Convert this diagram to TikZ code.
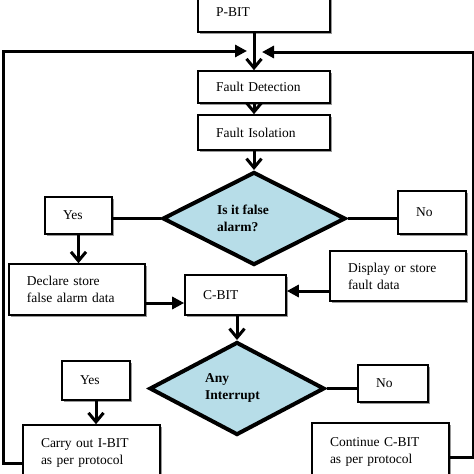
\documentclass[tikz,border=0pt]{standalone}
\usepackage{fontspec}
\setmainfont{Liberation Serif}
\usetikzlibrary{arrows.meta,shapes.geometric,shadows}
\definecolor{decblue}{RGB}{183,221,232}
\begin{document}
\begin{tikzpicture}[x=1pt,y=-1pt,
  box/.style={draw,line width=1.6pt,fill=white,rectangle,inner xsep=18pt,inner ysep=0pt,
    align=left,font=\fontsize{13.5}{17}\selectfont,
    drop shadow={shadow xshift=1.5pt,shadow yshift=-1.5pt,fill=black!40,opacity=1}},
  dec/.style={draw,diamond,line width=4pt,fill=decblue,inner sep=0pt},
  dtext/.style={anchor=west,align=left,font=\fontsize{13.5}{17}\selectfont\bfseries,inner sep=0pt},
  con/.style={line width=3pt},
  varr/.style={con,-{Straight Barb[length=9pt,width=15pt]}},
  tarr/.style={con,-{Triangle[length=12pt,width=12pt]}}]
\useasboundingbox (0,0) rectangle (474,474);
\clip (0,0) rectangle (474,474);

% boxes
\node[box,text width=96pt,minimum height=39pt] (pbit) at (264,12.5) {P-BIT};
\node[box,text width=96pt,minimum height=32pt] (fd) at (264,87) {Fault Detection};
\node[box,text width=96pt,minimum height=35pt] (fi) at (264,132.5) {Fault Isolation};
\node[box,text width=31pt,minimum height=37pt] (yes1) at (78.5,215.5) {Yes};
\node[box,text width=32pt,minimum height=43pt] (no1) at (432,212.5) {No};
\node[box,text width=100pt,minimum height=51pt] (decl) at (77,289.5) {Declare store\\false alarm data};
\node[box,text width=65pt,minimum height=40pt] (cbit) at (235.5,295) {C-BIT};
\node[box,text width=100pt,minimum height=50pt] (disp) at (398,276) {Display or store\\fault data};
\node[box,text width=32pt,minimum height=39pt] (yes2) at (96,380.5) {Yes};
\node[box,text width=34pt,minimum height=37pt] (no2) at (393,383.5) {No};
\node[box,text width=101pt,minimum height=56pt] (carry) at (91.5,453) {Carry out I-BIT\\as per protocol};
\node[box,text width=101pt,minimum height=58pt] (cont) at (380.5,452) {Continue C-BIT\\as per protocol};

% decisions
\node[dec,minimum width=183pt,minimum height=93pt] (d1) at (254,218.5) {};
\node[dtext] (d1t) at (217,218) {Is it false\\alarm?};
\node[dec,minimum width=175pt,minimum height=93pt] (d2) at (237,388.5) {};
\node[dtext] (d2t) at (205,388) {Any\\Interrupt};

% helper coordinates
\coordinate (colx) at (254,0);
\coordinate (r1) at (0,303);
\coordinate (r2) at (0,291);
\coordinate (L1) at (3,463);
\coordinate (L2) at (3,51);
\coordinate (L3) at (247,51);
\coordinate (R1) at (473,457);
\coordinate (R2) at (473,52);
\coordinate (R3) at (262,52);

% connectors
\draw[varr] (pbit.south -| colx) -- (fd.north -| colx);
\draw[varr] (fd.south -| colx) -- (fi.north -| colx);
\draw[varr] (fi.south -| colx) -- (d1.north);
\draw[con] (d1.west) -- (d1.west -| yes1.east);
\draw[con] (d1.east) -- (d1.east -| no1.west);
\draw[varr] (yes1.south) -- (decl.north -| yes1.south);
\draw[tarr] (decl.east |- r1) -- (cbit.west |- r1);
\draw[tarr] (disp.west |- r2) -- (cbit.east |- r2);
\draw[varr] (cbit.south -| d2.north) -- (d2.north);
\draw[con] (d2.east) -- (d2.east -| no2.west);
\draw[varr] (yes2.south) -- (carry.north -| yes2.south);
\draw[tarr] (carry.west |- L1) -- (L1) -- (L2) -- (L3);
\draw[tarr] (cont.east |- R1) -- (R1) -- (R2) -- (R3);
\end{tikzpicture}
\end{document}
